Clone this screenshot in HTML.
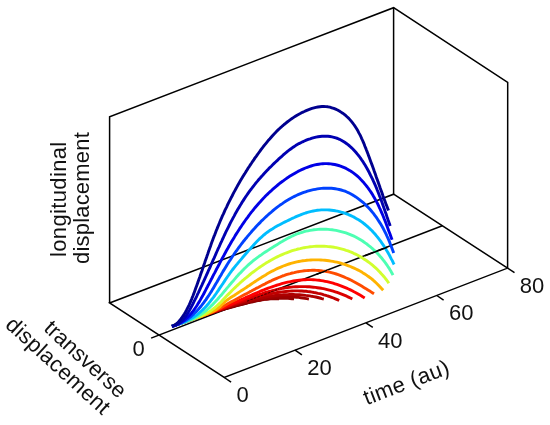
<!DOCTYPE html>
<html><head><meta charset="utf-8"><title>trajectories</title>
<style>
html,body{margin:0;padding:0;background:#fff;overflow:hidden;}
svg{display:block}
text{font-family:"Liberation Sans",sans-serif;font-size:22px;fill:#111;}
</style></head><body>
<svg width="550" height="425" viewBox="0 0 550 425">
<rect width="550" height="425" fill="#fff"/>
<g fill="none" stroke="#000" stroke-width="1.5" stroke-linecap="butt" stroke-linejoin="miter">
<path d="M109.6,303.0 L109.6,116.7 L393.6,7.7 L507.7,82.3 L507.6,268.1 L224.2,377.5 L109.6,303.0 L393.6,194.2 L507.6,268.1"/>
<path d="M393.6,194.2 L393.6,7.7"/>
<path d="M151.1,338.1 L442.3,225.7"/>
<path d="M224.2,377.5 L231.1,382.1"/>
<path d="M295.1,350.1 L301.9,354.8"/>
<path d="M365.9,322.8 L372.8,327.4"/>
<path d="M436.8,295.5 L443.6,300.1"/>
<path d="M507.6,268.1 L514.5,272.7"/>
</g>
<g fill="none" stroke-width="2.9" stroke-linecap="butt" stroke-linejoin="round">
<path d="M172.0,326.5 L174.0,325.7 L176.0,324.9 L177.9,324.2 L179.9,323.5 L181.9,322.7 L183.8,322.0 L185.8,321.3 L187.8,320.6 L189.8,319.9 L191.7,319.2 L193.7,318.5 L195.7,317.9 L197.7,317.2 L199.7,316.6 L201.7,315.9 L203.7,315.3 L205.7,314.7 L207.7,314.0 L209.7,313.4 L211.7,312.8 L213.7,312.2 L215.7,311.6 L217.7,311.0 L219.7,310.4 L221.7,309.9 L223.7,309.3 L225.7,308.7 L227.7,308.2 L229.8,307.6 L231.8,307.0 L233.8,306.5 L235.8,305.9 L237.8,305.4 L239.9,304.9 L241.9,304.3 L243.9,303.8 L245.9,303.3 L248.0,302.7 L250.0,302.2" stroke="rgb(128,0,0)"/>
<path d="M172.0,326.4 L174.0,325.6 L175.9,324.9 L177.9,324.2 L179.9,323.5 L181.8,322.8 L183.8,322.1 L185.8,321.4 L187.7,320.7 L189.7,320.0 L191.7,319.3 L193.6,318.6 L195.6,318.0 L197.6,317.3 L199.6,316.6 L201.5,316.0 L203.5,315.3 L205.5,314.7 L207.5,314.0 L209.5,313.4 L211.5,312.8 L213.5,312.2 L215.4,311.5 L217.4,310.9 L219.4,310.3 L221.4,309.8 L223.4,309.2 L225.4,308.6 L227.5,308.0 L229.5,307.5 L231.5,306.9 L233.5,306.4 L235.5,305.8 L237.5,305.3 L239.5,304.8 L241.6,304.3 L243.6,303.8 L245.6,303.3 L247.6,302.9 L249.7,302.4 L251.7,302.0 L253.7,301.5 L255.8,301.1 L257.8,300.7 L259.9,300.3 L261.9,299.9 L263.9,299.6" stroke="rgb(128,0,0)"/>
<path d="M172.0,326.3 L173.9,325.6 L175.9,324.9 L177.8,324.2 L179.8,323.5 L181.7,322.8 L183.6,322.2 L185.6,321.5 L187.5,320.8 L189.5,320.1 L191.4,319.5 L193.3,318.8 L195.3,318.1 L197.2,317.5 L199.2,316.8 L201.1,316.1 L203.1,315.5 L205.0,314.8 L207.0,314.2 L208.9,313.5 L210.9,312.9 L212.9,312.2 L214.8,311.6 L216.8,311.0 L218.8,310.3 L220.7,309.7 L222.7,309.1 L224.7,308.5 L226.6,307.9 L228.6,307.3 L230.6,306.8 L232.6,306.2 L234.6,305.7 L236.5,305.1 L238.5,304.6 L240.5,304.1 L242.5,303.6 L244.5,303.1 L246.5,302.6 L248.5,302.2 L250.5,301.7 L252.5,301.3 L254.5,300.9 L256.6,300.6 L258.6,300.2 L260.6,299.9 L262.6,299.6 L264.7,299.4 L266.7,299.2 L268.7,299.0 L270.8,298.9 L272.8,298.8 L274.9,298.8 L276.9,298.9 L279.0,298.9" stroke="rgb(138,0,0)"/>
<path d="M172.0,326.1 L173.9,325.5 L175.8,324.9 L177.8,324.2 L179.7,323.6 L181.6,322.9 L183.5,322.3 L185.4,321.6 L187.3,321.0 L189.3,320.3 L191.2,319.6 L193.1,319.0 L195.0,318.3 L197.0,317.6 L198.9,316.9 L200.8,316.3 L202.7,315.6 L204.7,314.9 L206.6,314.2 L208.5,313.6 L210.5,312.9 L212.4,312.2 L214.4,311.6 L216.3,310.9 L218.2,310.3 L220.2,309.6 L222.1,309.0 L224.1,308.4 L226.0,307.8 L228.0,307.2 L230.0,306.6 L231.9,306.0 L233.9,305.5 L235.8,304.9 L237.8,304.4 L239.8,303.9 L241.7,303.4 L243.7,302.9 L245.7,302.4 L247.7,302.0 L249.7,301.6 L251.6,301.2 L253.6,300.8 L255.6,300.4 L257.6,300.1 L259.6,299.8 L261.6,299.5 L263.6,299.2 L265.6,299.0 L267.6,298.8 L269.7,298.6 L271.7,298.5 L273.7,298.3 L275.7,298.2 L277.7,298.2 L279.8,298.2 L281.8,298.2 L283.8,298.2 L285.9,298.3 L287.9,298.4 L290.0,298.5 L292.0,298.7 L294.1,298.9" stroke="rgb(148,0,0)"/>
<path d="M172.0,326.1 L174.0,325.5 L175.9,324.8 L177.8,324.2 L179.7,323.6 L181.7,322.9 L183.6,322.3 L185.5,321.6 L187.4,320.9 L189.4,320.3 L191.3,319.6 L193.2,318.9 L195.2,318.2 L197.1,317.6 L199.0,316.9 L201.0,316.2 L202.9,315.5 L204.9,314.8 L206.8,314.2 L208.8,313.5 L210.7,312.8 L212.7,312.1 L214.6,311.5 L216.6,310.8 L218.5,310.1 L220.5,309.5 L222.4,308.8 L224.4,308.2 L226.4,307.6 L228.3,307.0 L230.3,306.3 L232.3,305.7 L234.3,305.2 L236.2,304.6 L238.2,304.0 L240.2,303.5 L242.2,302.9 L244.2,302.4 L246.1,301.9 L248.1,301.4 L250.1,301.0 L252.1,300.5 L254.1,300.1 L256.1,299.7 L258.1,299.3 L260.1,299.0 L262.1,298.6 L264.1,298.3 L266.1,298.0 L268.2,297.8 L270.2,297.5 L272.2,297.3 L274.2,297.1 L276.2,297.0 L278.3,296.9 L280.3,296.8 L282.3,296.7 L284.3,296.7 L286.4,296.7 L288.4,296.7 L290.5,296.8 L292.5,296.9 L294.5,297.0 L296.6,297.2 L298.6,297.4 L300.7,297.7 L302.7,298.0 L304.8,298.3 L306.8,298.7 L308.9,299.1" stroke="rgb(158,0,0)"/>
<path d="M172.1,326.1 L174.0,325.5 L175.9,324.8 L177.8,324.2 L179.7,323.6 L181.6,322.9 L183.5,322.3 L185.5,321.6 L187.4,320.9 L189.3,320.3 L191.2,319.6 L193.1,319.0 L195.0,318.3 L196.9,317.6 L198.9,316.9 L200.8,316.3 L202.7,315.6 L204.6,314.9 L206.6,314.2 L208.5,313.6 L210.4,312.9 L212.4,312.2 L214.3,311.5 L216.3,310.8 L218.2,310.2 L220.1,309.5 L222.1,308.8 L224.0,308.2 L226.0,307.5 L227.9,306.9 L229.9,306.3 L231.9,305.6 L233.8,305.0 L235.8,304.4 L237.7,303.8 L239.7,303.2 L241.7,302.6 L243.7,302.1 L245.6,301.5 L247.6,301.0 L249.6,300.5 L251.6,300.0 L253.5,299.5 L255.5,299.0 L257.5,298.6 L259.5,298.2 L261.5,297.7 L263.5,297.4 L265.5,297.0 L267.5,296.6 L269.5,296.3 L271.4,296.0 L273.4,295.8 L275.4,295.5 L277.4,295.3 L279.4,295.1 L281.5,294.9 L283.5,294.8 L285.5,294.7 L287.5,294.6 L289.5,294.5 L291.5,294.5 L293.5,294.5 L295.5,294.6 L297.5,294.7 L299.6,294.8 L301.6,294.9 L303.6,295.1 L305.6,295.4 L307.6,295.6 L309.7,295.9 L311.7,296.3 L313.7,296.6 L315.7,297.0 L317.8,297.5 L319.8,298.0 L321.8,298.6 L323.8,299.1" stroke="rgb(173,0,0)"/>
<path d="M172.0,326.3 L173.9,325.6 L175.8,324.9 L177.7,324.2 L179.6,323.6 L181.5,322.9 L183.4,322.2 L185.4,321.6 L187.3,320.9 L189.2,320.3 L191.1,319.6 L193.0,319.0 L194.9,318.3 L196.8,317.6 L198.7,317.0 L200.6,316.3 L202.6,315.7 L204.5,315.0 L206.4,314.3 L208.3,313.6 L210.2,312.9 L212.1,312.3 L214.0,311.6 L215.9,310.9 L217.8,310.2 L219.7,309.5 L221.6,308.8 L223.5,308.1 L225.4,307.4 L227.4,306.7 L229.3,306.0 L231.2,305.4 L233.1,304.7 L235.0,304.0 L236.9,303.4 L238.8,302.7 L240.8,302.1 L242.7,301.4 L244.6,300.8 L246.5,300.2 L248.5,299.6 L250.4,299.0 L252.3,298.4 L254.3,297.9 L256.2,297.3 L258.2,296.8 L260.1,296.3 L262.1,295.8 L264.0,295.3 L266.0,294.8 L268.0,294.4 L270.0,294.0 L271.9,293.6 L273.9,293.2 L275.9,292.8 L277.9,292.5 L279.9,292.2 L281.9,291.9 L283.9,291.7 L285.9,291.5 L287.9,291.3 L289.9,291.1 L291.9,291.0 L293.9,290.9 L295.9,290.9 L297.9,290.9 L299.9,291.0 L301.9,291.0 L304.0,291.2 L306.0,291.3 L308.0,291.6 L310.0,291.8 L312.0,292.1 L314.0,292.5 L316.0,292.8 L318.0,293.3 L319.9,293.7 L321.9,294.2 L323.9,294.8 L325.8,295.3 L327.8,296.0 L329.7,296.6 L331.6,297.3 L333.5,298.0 L335.4,298.8 L337.3,299.6 L339.2,300.5" stroke="rgb(194,0,0)"/>
<path d="M172.0,326.2 L173.9,325.6 L175.8,324.9 L177.7,324.2 L179.7,323.6 L181.6,322.9 L183.5,322.3 L185.4,321.6 L187.3,320.9 L189.3,320.3 L191.2,319.6 L193.1,319.0 L195.0,318.3 L196.9,317.6 L198.8,316.9 L200.7,316.3 L202.6,315.6 L204.5,314.9 L206.4,314.2 L208.3,313.5 L210.2,312.8 L212.1,312.1 L214.0,311.4 L215.9,310.7 L217.8,310.0 L219.7,309.3 L221.6,308.5 L223.5,307.8 L225.4,307.1 L227.3,306.4 L229.2,305.7 L231.1,304.9 L233.0,304.2 L234.9,303.5 L236.8,302.8 L238.7,302.1 L240.6,301.3 L242.5,300.6 L244.4,299.9 L246.4,299.2 L248.3,298.5 L250.2,297.8 L252.1,297.1 L254.0,296.4 L256.0,295.7 L257.9,295.1 L259.8,294.4 L261.8,293.8 L263.7,293.1 L265.6,292.5 L267.6,292.0 L269.5,291.4 L271.5,290.9 L273.5,290.3 L275.4,289.9 L277.4,289.4 L279.4,289.0 L281.3,288.6 L283.3,288.2 L285.3,287.9 L287.3,287.6 L289.3,287.3 L291.3,287.1 L293.3,286.9 L295.3,286.8 L297.3,286.7 L299.3,286.6 L301.3,286.6 L303.4,286.6 L305.4,286.6 L307.4,286.7 L309.4,286.8 L311.4,287.0 L313.4,287.2 L315.4,287.4 L317.4,287.7 L319.4,288.0 L321.4,288.3 L323.4,288.7 L325.4,289.1 L327.3,289.6 L329.3,290.1 L331.3,290.6 L333.2,291.2 L335.2,291.8 L337.1,292.4 L339.1,293.1 L341.0,293.8 L342.9,294.6 L344.8,295.4 L346.7,296.2 L348.5,297.1 L350.4,298.0 L352.3,299.0" stroke="rgb(219,0,0)"/>
<path d="M171.9,326.3 L173.9,325.6 L175.8,324.9 L177.7,324.2 L179.6,323.6 L181.6,322.9 L183.5,322.2 L185.4,321.6 L187.3,320.9 L189.3,320.3 L191.2,319.6 L193.1,319.0 L195.0,318.3 L196.9,317.7 L198.8,317.0 L200.8,316.3 L202.7,315.6 L204.6,315.0 L206.5,314.3 L208.4,313.6 L210.2,312.9 L212.1,312.1 L214.0,311.4 L215.9,310.7 L217.7,309.9 L219.6,309.1 L221.5,308.4 L223.3,307.6 L225.2,306.8 L227.0,306.0 L228.9,305.2 L230.7,304.4 L232.6,303.5 L234.4,302.7 L236.3,301.9 L238.1,301.1 L240.0,300.2 L241.8,299.4 L243.7,298.6 L245.5,297.7 L247.4,296.9 L249.3,296.1 L251.2,295.2 L253.0,294.4 L254.9,293.6 L256.8,292.8 L258.7,292.0 L260.6,291.2 L262.5,290.4 L264.4,289.7 L266.3,288.9 L268.2,288.2 L270.1,287.5 L272.1,286.8 L274.0,286.2 L275.9,285.5 L277.8,284.9 L279.8,284.3 L281.7,283.7 L283.7,283.2 L285.6,282.7 L287.6,282.2 L289.5,281.8 L291.5,281.4 L293.4,281.0 L295.4,280.7 L297.3,280.4 L299.3,280.2 L301.3,280.0 L303.3,279.8 L305.2,279.7 L307.2,279.6 L309.2,279.6 L311.2,279.6 L313.2,279.7 L315.2,279.9 L317.2,280.1 L319.2,280.3 L321.2,280.6 L323.2,280.9 L325.1,281.3 L327.1,281.7 L329.1,282.2 L331.1,282.7 L333.1,283.2 L335.0,283.8 L337.0,284.4 L338.9,285.1 L340.9,285.8 L342.8,286.6 L344.7,287.4 L346.6,288.2 L348.5,289.0 L350.4,289.9 L352.2,290.8 L354.0,291.8 L355.9,292.7 L357.7,293.7 L359.5,294.8 L361.2,295.8 L363.0,296.9 L364.7,298.0" stroke="rgb(255,0,0)"/>
<path d="M172.1,326.4 L173.9,325.7 L175.8,324.9 L177.7,324.2 L179.6,323.5 L181.5,322.8 L183.5,322.2 L185.4,321.5 L187.3,320.8 L189.2,320.2 L191.2,319.6 L193.1,318.9 L195.0,318.3 L197.0,317.6 L198.9,317.0 L200.8,316.3 L202.7,315.6 L204.7,314.9 L206.6,314.2 L208.4,313.5 L210.3,312.7 L212.2,312.0 L214.0,311.2 L215.9,310.3 L217.7,309.4 L219.5,308.5 L221.3,307.6 L223.0,306.6 L224.8,305.6 L226.5,304.6 L228.2,303.6 L230.0,302.6 L231.8,301.6 L233.5,300.7 L235.3,299.7 L237.1,298.7 L238.9,297.7 L240.6,296.8 L242.4,295.8 L244.2,294.8 L246.0,293.9 L247.8,292.9 L249.6,291.9 L251.4,291.0 L253.2,290.0 L255.0,289.1 L256.8,288.1 L258.6,287.2 L260.4,286.2 L262.2,285.3 L264.0,284.4 L265.8,283.4 L267.6,282.5 L269.4,281.6 L271.2,280.8 L273.1,279.9 L274.9,279.1 L276.8,278.3 L278.7,277.5 L280.5,276.8 L282.4,276.0 L284.4,275.4 L286.3,274.7 L288.2,274.1 L290.2,273.6 L292.2,273.0 L294.2,272.6 L296.2,272.1 L298.2,271.7 L300.2,271.4 L302.2,271.1 L304.2,270.8 L306.3,270.6 L308.3,270.5 L310.3,270.4 L312.4,270.3 L314.4,270.3 L316.4,270.4 L318.5,270.5 L320.5,270.6 L322.5,270.9 L324.5,271.1 L326.5,271.5 L328.5,271.9 L330.4,272.3 L332.4,272.8 L334.3,273.4 L336.3,274.0 L338.2,274.6 L340.1,275.3 L342.0,276.1 L343.9,276.9 L345.7,277.7 L347.6,278.5 L349.4,279.4 L351.3,280.3 L353.1,281.3 L354.9,282.2 L356.7,283.2 L358.5,284.2 L360.3,285.3 L362.0,286.3 L363.8,287.4 L365.5,288.4 L367.2,289.5 L368.9,290.6 L370.6,291.6 L372.3,292.7 L374.0,293.8" stroke="rgb(255,76,0)"/>
<path d="M172.1,326.5 L174.0,325.7 L175.8,324.9 L177.7,324.2 L179.6,323.5 L181.5,322.8 L183.4,322.1 L185.3,321.5 L187.3,320.8 L189.2,320.2 L191.1,319.6 L193.1,319.0 L195.0,318.3 L196.9,317.7 L198.9,317.0 L200.8,316.4 L202.7,315.7 L204.6,315.0 L206.5,314.3 L208.4,313.5 L210.2,312.7 L212.0,311.9 L213.8,311.0 L215.6,310.0 L217.2,308.9 L218.8,307.6 L220.3,306.3 L221.8,304.8 L223.3,303.4 L224.7,302.0 L226.3,300.7 L227.9,299.5 L229.5,298.4 L231.1,297.3 L232.8,296.2 L234.5,295.2 L236.1,294.1 L237.8,293.0 L239.5,291.9 L241.2,290.8 L242.9,289.7 L244.6,288.6 L246.3,287.5 L248.0,286.3 L249.7,285.2 L251.4,284.0 L253.1,282.9 L254.8,281.8 L256.5,280.6 L258.2,279.5 L259.9,278.4 L261.7,277.3 L263.4,276.2 L265.2,275.2 L266.9,274.1 L268.7,273.1 L270.5,272.1 L272.3,271.1 L274.1,270.2 L275.9,269.3 L277.7,268.4 L279.6,267.6 L281.4,266.8 L283.3,266.0 L285.2,265.3 L287.1,264.6 L289.0,264.0 L290.9,263.4 L292.9,262.9 L294.8,262.4 L296.8,261.9 L298.8,261.5 L300.8,261.1 L302.8,260.8 L304.8,260.6 L306.8,260.3 L308.8,260.1 L310.8,260.0 L312.8,259.9 L314.8,259.9 L316.8,259.9 L318.9,259.9 L320.9,260.0 L322.9,260.1 L324.9,260.3 L326.9,260.5 L328.9,260.8 L330.9,261.1 L332.9,261.4 L334.9,261.8 L336.9,262.2 L338.9,262.7 L340.8,263.2 L342.7,263.8 L344.7,264.4 L346.6,265.1 L348.5,265.8 L350.4,266.5 L352.2,267.3 L354.1,268.1 L355.9,269.0 L357.7,269.9 L359.5,270.8 L361.3,271.8 L363.0,272.9 L364.8,274.0 L366.5,275.1 L368.1,276.3 L369.8,277.5 L371.4,278.7 L373.0,280.0 L374.5,281.4 L376.0,282.8 L377.5,284.2 L379.0,285.7 L380.4,287.2 L381.8,288.8 L383.2,290.3" stroke="rgb(255,179,0)"/>
<path d="M172.1,326.4 L173.9,325.6 L175.8,324.9 L177.7,324.2 L179.6,323.5 L181.5,322.8 L183.5,322.2 L185.4,321.6 L187.3,320.9 L189.3,320.3 L191.2,319.7 L193.2,319.0 L195.1,318.4 L197.0,317.7 L198.9,316.9 L200.8,316.2 L202.6,315.4 L204.4,314.5 L206.2,313.5 L207.9,312.6 L209.6,311.5 L211.3,310.4 L212.9,309.2 L214.5,308.0 L216.0,306.7 L217.5,305.3 L219.0,303.9 L220.5,302.5 L221.9,301.1 L223.3,299.6 L224.7,298.1 L226.1,296.6 L227.5,295.1 L229.0,293.6 L230.4,292.2 L231.8,290.7 L233.3,289.3 L234.8,287.9 L236.2,286.5 L237.7,285.1 L239.2,283.7 L240.7,282.3 L242.2,281.0 L243.8,279.7 L245.3,278.4 L246.9,277.1 L248.4,275.8 L250.0,274.5 L251.6,273.2 L253.2,272.0 L254.8,270.8 L256.4,269.6 L258.1,268.4 L259.7,267.3 L261.4,266.1 L263.1,265.0 L264.8,263.9 L266.5,262.8 L268.3,261.8 L270.0,260.7 L271.8,259.7 L273.6,258.7 L275.4,257.8 L277.2,256.9 L279.0,256.0 L280.9,255.1 L282.7,254.3 L284.6,253.5 L286.5,252.8 L288.4,252.1 L290.3,251.4 L292.2,250.7 L294.2,250.1 L296.1,249.6 L298.1,249.0 L300.1,248.6 L302.1,248.1 L304.0,247.7 L306.1,247.4 L308.1,247.1 L310.1,246.8 L312.1,246.6 L314.1,246.4 L316.1,246.3 L318.2,246.2 L320.2,246.2 L322.2,246.2 L324.3,246.3 L326.3,246.4 L328.3,246.6 L330.3,246.8 L332.3,247.0 L334.3,247.3 L336.3,247.7 L338.3,248.1 L340.2,248.6 L342.2,249.1 L344.1,249.6 L346.1,250.3 L348.0,250.9 L349.9,251.7 L351.8,252.4 L353.6,253.3 L355.5,254.1 L357.3,255.0 L359.1,256.0 L360.8,257.0 L362.6,258.1 L364.3,259.2 L366.0,260.3 L367.7,261.5 L369.3,262.7 L370.9,263.9 L372.5,265.2 L374.1,266.6 L375.6,267.9 L377.1,269.3 L378.5,270.7 L380.0,272.2 L381.3,273.7 L382.7,275.2 L384.0,276.7 L385.3,278.3 L386.5,279.9 L387.7,281.5 L388.8,283.2" stroke="rgb(209,255,46)"/>
<path d="M171.9,326.1 L173.8,325.5 L175.7,324.8 L177.6,324.2 L179.6,323.7 L181.6,323.1 L183.5,322.5 L185.5,321.9 L187.4,321.2 L189.4,320.5 L191.3,319.8 L193.1,318.9 L194.9,318.1 L196.7,317.1 L198.4,316.1 L200.0,315.1 L201.7,313.9 L203.3,312.8 L204.8,311.6 L206.4,310.3 L207.9,309.0 L209.4,307.7 L210.8,306.3 L212.2,304.9 L213.6,303.4 L215.0,302.0 L216.4,300.5 L217.8,299.0 L219.1,297.4 L220.4,295.9 L221.8,294.4 L223.1,292.8 L224.4,291.2 L225.7,289.7 L227.0,288.1 L228.3,286.6 L229.6,285.0 L230.9,283.5 L232.2,281.9 L233.6,280.4 L234.9,278.9 L236.2,277.3 L237.6,275.8 L238.9,274.3 L240.3,272.9 L241.7,271.4 L243.1,270.0 L244.5,268.5 L245.9,267.2 L247.4,265.8 L248.9,264.4 L250.4,263.1 L251.9,261.8 L253.4,260.5 L255.0,259.3 L256.6,258.1 L258.3,256.9 L259.9,255.7 L261.6,254.6 L263.2,253.4 L264.9,252.3 L266.6,251.2 L268.3,250.1 L270.0,249.0 L271.7,247.9 L273.5,246.8 L275.2,245.7 L276.9,244.7 L278.6,243.6 L280.3,242.5 L282.1,241.5 L283.8,240.5 L285.6,239.5 L287.3,238.5 L289.1,237.6 L290.9,236.7 L292.7,235.8 L294.6,235.0 L296.4,234.2 L298.3,233.5 L300.2,232.9 L302.1,232.3 L304.1,231.7 L306.0,231.2 L308.0,230.8 L310.0,230.4 L312.0,230.1 L314.0,229.8 L316.0,229.6 L318.0,229.4 L320.0,229.3 L322.0,229.2 L324.1,229.2 L326.1,229.3 L328.1,229.4 L330.1,229.6 L332.1,229.8 L334.1,230.1 L336.1,230.4 L338.1,230.8 L340.1,231.3 L342.0,231.8 L344.0,232.3 L345.9,232.9 L347.8,233.6 L349.7,234.3 L351.5,235.1 L353.4,235.9 L355.2,236.8 L357.0,237.8 L358.7,238.7 L360.5,239.8 L362.2,240.8 L363.9,242.0 L365.5,243.1 L367.2,244.3 L368.8,245.6 L370.4,246.8 L371.9,248.2 L373.4,249.5 L374.9,250.9 L376.4,252.3 L377.8,253.8 L379.2,255.3 L380.5,256.8 L381.9,258.3 L383.1,259.9 L384.4,261.5 L385.6,263.1 L386.8,264.8 L387.9,266.5 L389.0,268.1 L390.1,269.9 L391.1,271.6 L392.0,273.3 L393.0,275.1" stroke="rgb(77,255,178)"/>
<path d="M171.9,326.1 L173.9,325.6 L175.8,325.0 L177.7,324.4 L179.7,323.8 L181.6,323.1 L183.5,322.4 L185.4,321.6 L187.2,320.7 L189.0,319.8 L190.8,318.8 L192.5,317.8 L194.2,316.7 L195.9,315.6 L197.5,314.4 L199.0,313.1 L200.5,311.8 L202.0,310.5 L203.4,309.1 L204.8,307.7 L206.2,306.2 L207.5,304.7 L208.8,303.2 L210.1,301.6 L211.3,300.0 L212.6,298.4 L213.8,296.8 L215.0,295.1 L216.2,293.5 L217.3,291.8 L218.5,290.1 L219.6,288.4 L220.8,286.7 L221.9,285.0 L223.1,283.3 L224.2,281.6 L225.3,279.9 L226.5,278.2 L227.6,276.5 L228.8,274.9 L229.9,273.3 L231.1,271.6 L232.3,270.0 L233.5,268.5 L234.8,266.9 L236.0,265.4 L237.3,263.9 L238.5,262.4 L239.8,260.9 L241.1,259.4 L242.4,257.8 L243.7,256.3 L245.0,254.8 L246.3,253.3 L247.6,251.8 L248.9,250.2 L250.3,248.7 L251.6,247.2 L253.0,245.7 L254.3,244.2 L255.7,242.7 L257.1,241.3 L258.6,239.8 L260.0,238.4 L261.5,237.1 L263.0,235.7 L264.5,234.5 L266.1,233.2 L267.7,232.0 L269.3,230.8 L271.0,229.7 L272.7,228.7 L274.4,227.6 L276.2,226.6 L278.0,225.6 L279.7,224.7 L281.5,223.7 L283.3,222.8 L285.1,221.9 L287.0,221.0 L288.8,220.1 L290.6,219.2 L292.4,218.3 L294.3,217.5 L296.1,216.6 L298.0,215.8 L299.9,215.1 L301.7,214.3 L303.6,213.7 L305.6,213.0 L307.5,212.4 L309.4,211.9 L311.4,211.4 L313.3,211.0 L315.3,210.6 L317.3,210.3 L319.3,210.1 L321.3,209.9 L323.3,209.9 L325.3,209.9 L327.3,209.9 L329.3,210.0 L331.4,210.2 L333.4,210.5 L335.4,210.8 L337.4,211.2 L339.3,211.6 L341.3,212.2 L343.3,212.7 L345.2,213.4 L347.1,214.0 L349.0,214.8 L350.8,215.6 L352.7,216.5 L354.5,217.4 L356.2,218.4 L358.0,219.4 L359.7,220.5 L361.3,221.6 L363.0,222.8 L364.5,224.0 L366.1,225.3 L367.6,226.6 L369.1,228.0 L370.5,229.4 L372.0,230.8 L373.3,232.3 L374.7,233.8 L376.0,235.3 L377.3,236.9 L378.6,238.5 L379.8,240.1 L381.0,241.7 L382.1,243.4 L383.3,245.1 L384.4,246.8 L385.5,248.5 L386.5,250.3 L387.6,252.0 L388.6,253.8 L389.6,255.5 L390.5,257.3 L391.4,259.1 L392.4,260.9 L393.2,262.7 L394.1,264.5" stroke="rgb(0,189,255)"/>
<path d="M171.9,326.2 L173.9,325.8 L175.9,325.2 L177.8,324.5 L179.7,323.7 L181.5,322.8 L183.3,321.8 L185.0,320.8 L186.7,319.7 L188.3,318.5 L189.9,317.3 L191.5,316.0 L193.0,314.7 L194.4,313.3 L195.8,311.9 L197.2,310.5 L198.6,309.0 L199.9,307.5 L201.2,306.0 L202.4,304.4 L203.6,302.8 L204.8,301.2 L206.0,299.6 L207.1,297.9 L208.3,296.2 L209.4,294.5 L210.5,292.8 L211.6,291.1 L212.6,289.3 L213.7,287.6 L214.7,285.8 L215.7,284.0 L216.8,282.3 L217.8,280.5 L218.8,278.7 L219.8,276.9 L220.9,275.2 L221.9,273.4 L222.9,271.6 L224.0,269.9 L225.0,268.2 L226.1,266.4 L227.1,264.7 L228.2,263.0 L229.3,261.3 L230.4,259.7 L231.5,258.0 L232.6,256.3 L233.7,254.7 L234.8,253.0 L236.0,251.4 L237.2,249.8 L238.3,248.2 L239.5,246.6 L240.7,245.0 L241.9,243.4 L243.1,241.8 L244.4,240.3 L245.6,238.7 L246.9,237.2 L248.2,235.6 L249.5,234.1 L250.8,232.6 L252.1,231.0 L253.5,229.5 L254.9,228.0 L256.2,226.5 L257.6,225.0 L259.0,223.6 L260.5,222.1 L261.9,220.6 L263.4,219.2 L264.9,217.8 L266.4,216.4 L267.9,215.0 L269.4,213.6 L271.0,212.3 L272.5,211.0 L274.1,209.7 L275.7,208.4 L277.3,207.1 L279.0,205.9 L280.6,204.7 L282.3,203.6 L284.0,202.4 L285.7,201.3 L287.4,200.3 L289.1,199.3 L290.9,198.3 L292.7,197.3 L294.5,196.4 L296.3,195.5 L298.1,194.7 L300.0,193.9 L301.8,193.1 L303.7,192.4 L305.6,191.8 L307.5,191.2 L309.5,190.6 L311.4,190.1 L313.4,189.7 L315.4,189.3 L317.4,188.9 L319.4,188.6 L321.4,188.4 L323.4,188.3 L325.4,188.2 L327.4,188.2 L329.4,188.2 L331.4,188.3 L333.4,188.5 L335.3,188.8 L337.3,189.1 L339.2,189.5 L341.2,190.0 L343.1,190.6 L345.0,191.2 L346.8,192.0 L348.7,192.8 L350.5,193.7 L352.3,194.7 L354.0,195.8 L355.8,196.9 L357.5,198.1 L359.1,199.3 L360.7,200.6 L362.3,201.9 L363.9,203.2 L365.4,204.6 L366.9,206.1 L368.3,207.5 L369.7,209.0 L371.0,210.5 L372.3,212.1 L373.6,213.7 L374.8,215.3 L376.0,216.9 L377.1,218.5 L378.2,220.2 L379.3,221.9 L380.4,223.6 L381.4,225.3 L382.4,227.0 L383.4,228.8 L384.3,230.6 L385.2,232.4 L386.1,234.2 L386.9,236.0 L387.8,237.9 L388.6,239.7 L389.4,241.6 L390.1,243.5 L390.9,245.4 L391.6,247.3 L392.3,249.2 L393.0,251.1 L393.7,253.0" stroke="rgb(0,66,255)"/>
<path d="M171.9,326.4 L174.0,325.8 L175.9,325.1 L177.8,324.3 L179.6,323.3 L181.3,322.3 L183.0,321.2 L184.5,320.0 L186.0,318.7 L187.5,317.4 L188.9,316.0 L190.2,314.5 L191.5,313.0 L192.8,311.4 L194.0,309.8 L195.1,308.2 L196.3,306.5 L197.4,304.8 L198.4,303.1 L199.5,301.4 L200.5,299.6 L201.5,297.8 L202.5,296.1 L203.5,294.3 L204.4,292.5 L205.4,290.6 L206.3,288.8 L207.3,287.0 L208.2,285.2 L209.2,283.4 L210.1,281.6 L211.0,279.8 L212.0,278.0 L212.9,276.2 L213.8,274.4 L214.8,272.6 L215.7,270.8 L216.6,269.0 L217.6,267.3 L218.5,265.5 L219.5,263.7 L220.4,261.9 L221.3,260.1 L222.3,258.3 L223.3,256.6 L224.2,254.8 L225.2,253.0 L226.1,251.3 L227.1,249.5 L228.1,247.8 L229.1,246.0 L230.1,244.3 L231.1,242.5 L232.1,240.8 L233.2,239.1 L234.2,237.4 L235.2,235.6 L236.3,233.9 L237.4,232.2 L238.5,230.5 L239.5,228.9 L240.7,227.2 L241.8,225.5 L242.9,223.8 L244.1,222.2 L245.2,220.5 L246.4,218.9 L247.6,217.3 L248.8,215.6 L250.0,214.0 L251.2,212.4 L252.5,210.9 L253.7,209.3 L255.0,207.7 L256.3,206.2 L257.6,204.7 L258.9,203.2 L260.3,201.7 L261.6,200.2 L263.0,198.7 L264.4,197.3 L265.8,195.8 L267.3,194.4 L268.7,193.0 L270.2,191.6 L271.7,190.3 L273.2,188.9 L274.7,187.6 L276.2,186.3 L277.8,185.0 L279.4,183.7 L280.9,182.5 L282.6,181.3 L284.2,180.1 L285.9,178.9 L287.5,177.8 L289.2,176.6 L291.0,175.5 L292.7,174.5 L294.5,173.4 L296.2,172.4 L298.0,171.4 L299.9,170.5 L301.7,169.6 L303.5,168.8 L305.4,168.0 L307.3,167.3 L309.2,166.6 L311.1,166.0 L313.0,165.4 L314.9,164.9 L316.9,164.5 L318.8,164.2 L320.8,163.9 L322.8,163.7 L324.8,163.6 L326.7,163.6 L328.7,163.7 L330.7,163.9 L332.7,164.2 L334.7,164.5 L336.7,165.0 L338.6,165.5 L340.5,166.1 L342.4,166.8 L344.3,167.6 L346.1,168.4 L347.9,169.4 L349.6,170.4 L351.3,171.5 L353.0,172.6 L354.6,173.8 L356.2,175.1 L357.7,176.4 L359.2,177.8 L360.6,179.3 L362.0,180.7 L363.4,182.2 L364.7,183.8 L366.0,185.4 L367.3,187.0 L368.5,188.6 L369.6,190.2 L370.8,191.9 L371.9,193.6 L372.9,195.3 L373.9,197.1 L374.9,198.8 L375.9,200.6 L376.9,202.4 L377.8,204.2 L378.7,206.0 L379.5,207.9 L380.4,209.7 L381.2,211.6 L382.0,213.4 L382.8,215.3 L383.6,217.2 L384.3,219.0 L385.1,220.9 L385.8,222.8 L386.5,224.7 L387.2,226.6 L387.9,228.5 L388.6,230.4 L389.3,232.2 L390.0,234.1 L390.7,236.0 L391.4,237.9 L392.1,239.7" stroke="rgb(0,0,230)"/>
<path d="M171.9,326.3 L174.0,325.7 L175.9,325.0 L177.7,324.1 L179.4,323.0 L180.9,321.8 L182.4,320.4 L183.7,319.0 L184.9,317.4 L186.1,315.8 L187.2,314.1 L188.3,312.4 L189.3,310.6 L190.3,308.8 L191.3,307.0 L192.2,305.3 L193.1,303.5 L194.0,301.7 L194.9,299.9 L195.8,298.1 L196.7,296.3 L197.5,294.4 L198.4,292.6 L199.2,290.8 L200.1,289.0 L200.9,287.2 L201.8,285.4 L202.6,283.5 L203.5,281.7 L204.3,279.9 L205.1,278.1 L206.0,276.2 L206.8,274.4 L207.6,272.6 L208.4,270.7 L209.3,268.9 L210.1,267.1 L210.9,265.2 L211.7,263.4 L212.5,261.5 L213.3,259.7 L214.2,257.9 L215.0,256.0 L215.8,254.2 L216.6,252.3 L217.4,250.5 L218.2,248.6 L219.1,246.8 L219.9,245.0 L220.7,243.1 L221.6,241.3 L222.4,239.5 L223.3,237.7 L224.1,235.8 L225.0,234.0 L225.8,232.2 L226.7,230.4 L227.6,228.6 L228.5,226.8 L229.4,225.0 L230.3,223.2 L231.2,221.4 L232.2,219.6 L233.1,217.9 L234.1,216.1 L235.0,214.3 L236.0,212.6 L237.0,210.8 L238.0,209.1 L239.0,207.4 L240.0,205.7 L241.1,204.0 L242.1,202.3 L243.2,200.6 L244.3,198.9 L245.4,197.2 L246.6,195.5 L247.7,193.9 L248.9,192.2 L250.0,190.6 L251.3,189.0 L252.5,187.4 L253.7,185.8 L255.0,184.2 L256.2,182.6 L257.5,181.1 L258.8,179.5 L260.2,178.0 L261.5,176.5 L262.9,175.0 L264.2,173.5 L265.6,172.0 L267.0,170.5 L268.4,169.1 L269.8,167.6 L271.3,166.2 L272.7,164.8 L274.1,163.4 L275.6,162.0 L277.1,160.6 L278.5,159.2 L280.0,157.9 L281.5,156.6 L283.0,155.2 L284.5,153.9 L286.0,152.7 L287.5,151.4 L289.1,150.2 L290.7,149.0 L292.3,147.8 L293.9,146.7 L295.6,145.6 L297.3,144.6 L299.0,143.6 L300.8,142.7 L302.6,141.8 L304.4,141.0 L306.3,140.2 L308.2,139.4 L310.1,138.8 L312.1,138.1 L314.0,137.6 L316.0,137.1 L318.0,136.8 L320.0,136.5 L322.0,136.3 L324.0,136.2 L326.0,136.2 L328.0,136.3 L330.0,136.5 L332.0,136.9 L333.9,137.3 L335.8,137.9 L337.7,138.5 L339.5,139.3 L341.3,140.2 L343.0,141.2 L344.7,142.3 L346.4,143.5 L348.0,144.7 L349.6,146.0 L351.1,147.4 L352.6,148.8 L354.0,150.3 L355.4,151.8 L356.7,153.3 L358.0,154.9 L359.3,156.5 L360.5,158.1 L361.6,159.8 L362.8,161.4 L363.8,163.1 L364.9,164.8 L365.9,166.5 L366.9,168.2 L367.9,170.0 L368.8,171.7 L369.7,173.5 L370.6,175.3 L371.5,177.1 L372.4,178.9 L373.2,180.7 L374.1,182.6 L374.9,184.4 L375.7,186.3 L376.5,188.1 L377.2,190.0 L378.0,191.9 L378.7,193.7 L379.4,195.6 L380.2,197.5 L380.9,199.4 L381.6,201.3 L382.3,203.2 L382.9,205.1 L383.6,207.0 L384.3,208.9 L384.9,210.8 L385.6,212.7 L386.3,214.6 L386.9,216.5 L387.6,218.4 L388.2,220.3 L388.9,222.2 L389.5,224.1 L390.2,226.0" stroke="rgb(0,0,178)"/>
<path d="M172.1,326.5 L173.9,325.5 L175.6,324.4 L177.2,323.2 L178.6,321.8 L179.9,320.3 L181.1,318.7 L182.3,317.0 L183.4,315.4 L184.5,313.7 L185.5,312.0 L186.5,310.2 L187.4,308.4 L188.3,306.6 L189.2,304.8 L190.0,303.0 L190.8,301.1 L191.6,299.2 L192.3,297.3 L193.1,295.5 L193.8,293.6 L194.5,291.7 L195.2,289.8 L195.9,287.8 L196.6,285.9 L197.3,284.0 L198.0,282.1 L198.6,280.2 L199.3,278.3 L200.0,276.4 L200.6,274.5 L201.3,272.6 L202.0,270.7 L202.6,268.8 L203.3,266.8 L203.9,264.9 L204.6,263.0 L205.2,261.1 L205.9,259.2 L206.6,257.3 L207.2,255.4 L207.9,253.5 L208.5,251.6 L209.2,249.7 L209.9,247.8 L210.6,245.9 L211.2,244.0 L211.9,242.1 L212.6,240.2 L213.3,238.3 L214.0,236.4 L214.8,234.6 L215.5,232.7 L216.2,230.8 L217.0,228.9 L217.7,227.1 L218.5,225.2 L219.3,223.3 L220.0,221.5 L220.8,219.6 L221.6,217.8 L222.4,215.9 L223.3,214.1 L224.1,212.3 L224.9,210.4 L225.8,208.6 L226.7,206.8 L227.5,205.0 L228.4,203.2 L229.3,201.4 L230.2,199.6 L231.1,197.8 L232.1,196.0 L233.0,194.2 L233.9,192.4 L234.9,190.6 L235.9,188.8 L236.8,187.1 L237.8,185.3 L238.8,183.6 L239.8,181.8 L240.8,180.1 L241.9,178.3 L242.9,176.6 L243.9,174.9 L245.0,173.2 L246.1,171.4 L247.2,169.7 L248.2,168.0 L249.4,166.3 L250.5,164.6 L251.6,163.0 L252.7,161.3 L253.9,159.6 L255.0,157.9 L256.2,156.3 L257.4,154.6 L258.6,153.0 L259.8,151.4 L261.0,149.7 L262.2,148.1 L263.4,146.5 L264.7,144.9 L266.0,143.3 L267.2,141.8 L268.5,140.2 L269.9,138.7 L271.2,137.2 L272.5,135.7 L273.9,134.2 L275.3,132.8 L276.7,131.3 L278.1,129.9 L279.6,128.5 L281.1,127.2 L282.6,125.8 L284.1,124.5 L285.6,123.3 L287.2,122.0 L288.8,120.8 L290.4,119.6 L292.0,118.5 L293.7,117.4 L295.4,116.3 L297.1,115.2 L298.9,114.2 L300.7,113.3 L302.5,112.3 L304.3,111.5 L306.2,110.6 L308.1,109.8 L310.0,109.1 L312.0,108.4 L314.0,107.9 L315.9,107.4 L317.9,107.0 L319.9,106.7 L321.9,106.5 L323.9,106.5 L325.9,106.6 L327.9,106.8 L329.9,107.2 L331.8,107.8 L333.8,108.4 L335.6,109.2 L337.5,110.0 L339.3,111.0 L341.0,112.1 L342.7,113.2 L344.3,114.4 L345.9,115.7 L347.3,117.0 L348.8,118.4 L350.1,119.9 L351.4,121.4 L352.6,122.9 L353.8,124.5 L355.0,126.2 L356.0,127.8 L357.1,129.6 L358.1,131.3 L359.0,133.1 L360.0,134.9 L360.9,136.7 L361.7,138.6 L362.6,140.5 L363.4,142.4 L364.2,144.3 L364.9,146.2 L365.7,148.1 L366.4,150.0 L367.2,151.9 L367.9,153.8 L368.6,155.7 L369.3,157.6 L370.0,159.5 L370.7,161.4 L371.4,163.3 L372.1,165.1 L372.8,167.0 L373.5,168.9 L374.1,170.8 L374.8,172.7 L375.5,174.6 L376.1,176.5 L376.8,178.4 L377.5,180.2 L378.1,182.1 L378.8,184.0 L379.5,185.9 L380.1,187.8 L380.8,189.7 L381.5,191.6 L382.2,193.5 L382.8,195.4 L383.5,197.3 L384.2,199.2 L384.9,201.1 L385.6,203.0 L386.3,204.9 L387.1,206.8 L387.8,208.7 L388.5,210.6" stroke="rgb(0,0,143)"/>
</g>
<g fill="none" stroke="#000" stroke-width="1.5">
<path d="M365,255.8 L387.3,247.2"/>
<path d="M316.5,274.4 L327,270.4"/>
<path d="M247,301.15 L279,288.85" stroke-width="1.1" stroke-opacity="0.6" stroke-dasharray="2.5 1.2"/>
</g>
<g>
<text x="236.4" y="402.2">0</text>
<text x="307.2" y="374.8">20</text>
<text x="378.1" y="347.5">40</text>
<text x="448.9" y="320.2">60</text>
<text x="519.8" y="292.8">80</text>
<text x="132.6" y="356.3">0</text>
<text transform="translate(66,199.2) rotate(-90)" text-anchor="middle" style="letter-spacing:0.36px">longitudinal</text>
<text transform="translate(89.3,198) rotate(-90)" text-anchor="middle" style="letter-spacing:0.2px">displacement</text>
<text transform="translate(80.5,364.5) rotate(42.5)" text-anchor="middle">transverse</text>
<text transform="translate(53.2,371) rotate(42.5)" text-anchor="middle" style="letter-spacing:0.25px">displacement</text>
<text transform="translate(409,389.1) rotate(-21)" text-anchor="middle" style="letter-spacing:0.4px">time (au)</text>
</g>
</svg>
</body></html>
